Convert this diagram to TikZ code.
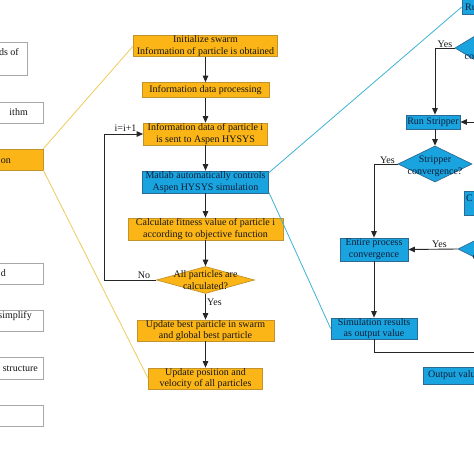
\documentclass[tikz,border=0pt]{standalone}
\usepackage{fontspec}
\setmainfont{Liberation Serif}
\usetikzlibrary{arrows.meta,shapes.geometric,calc}
\definecolor{ofill}{HTML}{FBB517}
\definecolor{oline}{HTML}{C2922C}
\definecolor{bfill}{HTML}{19A4E0}
\definecolor{bline}{HTML}{2C6A94}
\definecolor{ylink}{HTML}{EDCB5C}
\definecolor{blink}{HTML}{3FB2D2}
\definecolor{gline}{HTML}{A8A8A8}
\definecolor{txt}{HTML}{141414}
\definecolor{btxt}{HTML}{0E1E36}
\definecolor{arr}{HTML}{262626}
\newcommand{\fs}{\fontsize{10}{11.6}\selectfont}
\begin{document}
\begin{tikzpicture}[x=1pt,y=-1pt,
  box/.style={rectangle, inner sep=0pt, align=center, font=\fs, line width=0.7pt},
  obox/.style={box, draw=oline, fill=ofill, text=txt},
  bbox/.style={box, draw=bline, fill=bfill, text=btxt},
  wbox/.style={box, draw=gline, fill=white, text=txt, line width=0.9pt},
  odia/.style={diamond, inner sep=0pt, draw=oline, fill=ofill, line width=0.7pt},
  bdia/.style={diamond, inner sep=0pt, draw=bline, fill=bfill, line width=0.7pt},
  lbl/.style={font=\fs, text=txt, inner sep=0pt},
  blbl/.style={font=\fs, text=btxt, inner sep=0pt, align=center},
  flow/.style={draw=arr, line width=0.9pt, -{Triangle[length=6.5pt,width=5.5pt]}},
  plain/.style={draw=arr, line width=0.9pt},
  ylk/.style={draw=ylink, line width=0.8pt},
  blk/.style={draw=blink, line width=0.8pt}]
\useasboundingbox (0,0) rectangle (474,474);
\clip (0,0) rectangle (474,474);

% left column (cut off)
\node[wbox, minimum width=87pt, minimum height=33pt] (lb1) at (-16.5,58.5) {};
\node[wbox, minimum width=103pt, minimum height=21pt] (lb2) at (-8.5,112.5) {};
\node[obox, minimum width=103pt, minimum height=21pt] (lb3) at (-8.5,159.5) {};
\node[wbox, minimum width=103pt, minimum height=21pt] (lb4) at (-8.5,273.5) {};
\node[wbox, minimum width=103pt, minimum height=21pt] (lb5) at (-8.5,320.5) {};
\node[wbox, minimum width=103pt, minimum height=22pt] (lb6) at (-8.5,368) {};
\node[wbox, minimum width=103pt, minimum height=21pt] (lb7) at (-8.5,415.5) {};
\node[lbl, anchor=base east] (t1) at (19,55.5) {ds of};
\node[lbl, anchor=base east] (t2) at (28,115.5) {ithm};
\node[lbl, anchor=base east] (t3) at (11,163) {on};
\node[lbl, anchor=base east] (t4) at (6,276.5) {d};
\node[lbl, anchor=base east] (t5) at (32,318) {simplify};
\node[lbl, anchor=base east] (t6) at (38,371) {structure};

% middle column
\node[obox, minimum width=144pt, minimum height=21pt] (init) at (205.5,46) {Initialize swarm\\Information of particle is obtained};
\node[obox, minimum width=127pt, minimum height=15pt] (proc) at (205.5,90) {Information data processing};
\node[obox, minimum width=124pt, minimum height=22pt] (sent) at (205.5,134) {Information data of particle i\\is sent to Aspen HYSYS};
\node[bbox, minimum width=126pt, minimum height=22pt] (mat) at (205.5,182) {Matlab automatically controls\\Aspen HYSYS simulation};
\node[obox, minimum width=155pt, minimum height=22pt] (calc) at (205.5,229) {Calculate fitness value of particle i\\according to objective function};
\node[odia, minimum width=98pt, minimum height=27pt] (dall) at (205.5,280) {};
\node[lbl, align=center] (dallt) at (205.5,280) {All particles are\\calculated?};
\node[obox, minimum width=137pt, minimum height=21pt] (best) at (205.5,330.5) {Update best particle in swarm\\and global best particle};
\node[obox, minimum width=114pt, minimum height=21pt] (pos) at (205.5,378.5) {Update position and\\velocity of all particles};

\draw[flow] (init) -- (proc);
\draw[flow] (proc) -- (sent);
\draw[flow] (sent) -- (mat);
\draw[flow] (mat) -- (calc);
\draw[flow] (calc) -- (dall);
\draw[flow] (dall) -- (best);
\draw[flow] (best) -- (pos);
\coordinate (loopc) at (104,280);
\draw[flow] (dall.west) -- (loopc) |- (sent.west);
\node[lbl] (no) at (144,275) {No};
\node[lbl] (inc) at (125.5,128.5) {i=i+1};
\node[lbl, anchor=west] (yes1) at (207,302.5) {Yes};

% right column (cut off)
\node[bbox, minimum width=80pt, minimum height=16pt] (rbox) at (502,6) {};
\node[blbl, anchor=west] (rboxt) at (465,7.5) {Run};
\node[bdia, minimum width=76pt, minimum height=46pt] (d1) at (493,48) {};
\node[blbl, anchor=west] (d1t) at (464.5,57) {convergence?};
\node[bbox, minimum width=54pt, minimum height=14pt] (runs) at (433,122) {Run Stripper};
\node[bdia, minimum width=74pt, minimum height=36pt] (strip) at (435,164) {};
\node[blbl] (stript) at (435,166) {Stripper\\convergence?};
\node[bbox, minimum width=66pt, minimum height=24pt] (cbox) at (497,203) {};
\node[blbl, anchor=west] (cboxt) at (466,198) {C};
\node[bdia, minimum width=76pt, minimum height=38pt] (d3) at (496,249) {};
\node[blbl, anchor=west] (d3t) at (472.5,257) {c};
\node[bbox, minimum width=68pt, minimum height=23pt] (ent) at (374,249.5) {Entire process\\convergence};
\node[bbox, minimum width=86pt, minimum height=21pt] (sim) at (374,328.5) {Simulation results\\as output value};
\node[bbox, minimum width=62pt, minimum height=17pt] (outv) at (454,375.5) {Output value};

\coordinate (c1) at (435,48);
\draw[flow] (d1.west) -- (c1) -- (c1 |- runs.north);
\node[lbl] (yes2) at (445,44) {Yes};
\coordinate (rin) at (480,122);
\draw[flow] (rin) -- (runs.east);
\draw[flow] (runs.south -| strip.north) -- (strip.north);
\coordinate (c2) at (374,164);
\draw[flow] (strip.west) -- (c2) -- (ent.north);
\node[lbl] (yes3) at (387.5,160.5) {Yes};
\draw[flow] (d3.west) -- (ent.east);
\node[lbl] (yes4) at (439.5,244) {Yes};
\draw[flow] (ent) -- (sim);
\coordinate (c3) at (374,352);
\coordinate (c4) at (480,352);
\draw[plain] (sim.south) -- (c3) -- (c4);

% link lines
\draw[ylk] (lb3.north east) -- (init.west);
\draw[ylk] (lb3.south east) -- (pos.west);
\coordinate (m1) at ($(mat.north east)+(0,2)$);
\coordinate (m2) at ($(mat.south east)+(0,-1)$);
\coordinate (r1) at ($(rbox.west)+(0,1)$);
\draw[blk] (m1) -- (r1);
\draw[blk] (m2) -- (sim.west);
\end{tikzpicture}
\end{document}
